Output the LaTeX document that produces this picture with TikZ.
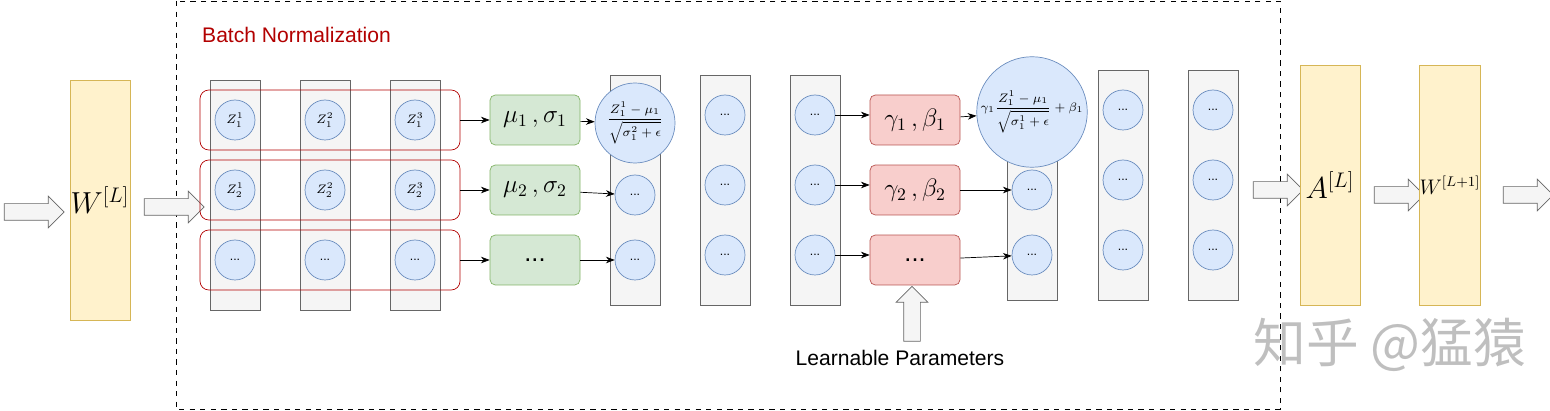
\documentclass[tikz,border=0pt]{standalone}
\usepackage{fontspec}
\usepackage{amsmath}
\setmainfont{Liberation Sans}
\newfontfamily\cjk{Noto Sans CJK SC}
\usetikzlibrary{shapes.arrows,arrows.meta}
\definecolor{colfill}{HTML}{F5F5F5}
\definecolor{colline}{HTML}{666666}
\definecolor{cfill}{HTML}{DAE8FC}
\definecolor{cline}{HTML}{6C8EBF}
\definecolor{gfill}{HTML}{D5E8D4}
\definecolor{gline}{HTML}{82B366}
\definecolor{pfill}{HTML}{F8CECC}
\definecolor{pline}{HTML}{B85450}
\definecolor{yfill}{HTML}{FFF2CC}
\definecolor{yline}{HTML}{D6B656}
\definecolor{bnred}{HTML}{B20000}
\begin{document}
\begin{tikzpicture}[x=0.02cm,y=-0.02cm,
  col/.style={draw=colline,fill=colfill,minimum width=1cm,inner sep=0},
  cir/.style={circle,draw=cline,fill=cfill,minimum size=0.8cm,inner sep=0,font=\scriptsize},
  grp/.style={draw=bnred,rounded corners=5pt,minimum width=5.2cm,minimum height=1.2cm},
  gbox/.style={draw=gline,fill=gfill,rounded corners=3pt,minimum width=1.8cm,minimum height=1cm},
  pbox/.style={draw=pline,fill=pfill,rounded corners=3pt,minimum width=1.8cm,minimum height=1cm},
  ybox/.style={draw=yline,fill=yfill,minimum width=1.2cm,minimum height=4.8cm,inner sep=0},
  barr/.style={single arrow,draw=colline,fill=colfill,inner xsep=0,inner ysep=0.16cm,single arrow head extend=0.15cm,single arrow tip angle=90},
  ar/.style={-{Stealth[length=5pt]},black}]
\useasboundingbox (0,0) rectangle (1550,411);
\draw[dashed] (176,1) rectangle (1280,409);
\node[anchor=west,text=bnred,font=\large] (bn) at (196,35) {Batch Normalization};
% W
\node[ybox] (W) at (100,200) {\LARGE $W^{[L]}$};
\node[barr,minimum height=1.2cm] (a0) at (30,212) {};
\node[barr,minimum height=1.2cm] (a1) at (170,207) {};
% columns
\foreach \n/\x/\t/\b in {c1/235/80/310,c2/325/80/310,c3/415/80/310,c4/635/75/305,c5/725/75/305,c6/815/75/305,c7/1032/70/300,c8/1123/70/300,c9/1213/70/300}
  \node[col,minimum height={(\b-\t)*0.02cm}] (\n) at (\x,{(\t+\b)/2}) {};
% groups
\foreach \r/\y in {1/120,2/190,3/260} \node[grp] (g\r) at (330,\y) {};
% circles
\node[cir] (z11) at (235,120) {$Z_1^1$};
\node[cir] (z12) at (325,120) {$Z_1^2$};
\node[cir] (z13) at (415,120) {$Z_1^3$};
\node[cir] (z21) at (235,190) {$Z_2^1$};
\node[cir] (z22) at (325,190) {$Z_2^2$};
\node[cir] (z23) at (415,190) {$Z_2^3$};
\node[cir] (z31) at (235,260) {...};
\node[cir] (z32) at (325,260) {...};
\node[cir] (z33) at (415,260) {...};
% green
\node[gbox] (m1) at (535,120) {\Large $\mu_1\,,\sigma_1$};
\node[gbox] (m2) at (535,190) {\Large $\mu_2\,,\sigma_2$};
\node[gbox] (m3) at (535,260) {\Large ...};
% col4
\node[cir,minimum size=1.6cm,font=\scriptsize] (n1) at (635,123) {$\dfrac{Z_1^1-\mu_1}{\sqrt{\sigma_1^2+\epsilon}}$};
\node[cir] (n2) at (635,195) {...};
\node[cir] (n3) at (635,260) {...};
\foreach \x/\p in {725/d,815/e} {
  \node[cir] (\p1) at (\x,115) {...};
  \node[cir] (\p2) at (\x,185) {...};
  \node[cir] (\p3) at (\x,255) {...};}
% pink
\node[pbox] (p1) at (915,120) {\Large $\gamma_1\,,\beta_1$};
\node[pbox] (p2) at (915,190) {\Large $\gamma_2\,,\beta_2$};
\node[pbox] (p3) at (915,260) {\Large ...};
% col7
\node[cir,minimum size=2.1cm,font=\scriptsize] (o1) at (1032,112) {$\gamma_1\dfrac{Z_1^1-\mu_1}{\sqrt{\sigma_1^1+\epsilon}}+\beta_1$};
\node[cir] (o2) at (1032,190) {...};
\node[cir] (o3) at (1032,255) {...};
\foreach \x/\p in {1123/f,1213/h} {
  \node[cir] (\p1) at (\x,110) {...};
  \node[cir] (\p2) at (\x,180) {...};
  \node[cir] (\p3) at (\x,250) {...};}
% connectors
\foreach \r in {1,2,3} {
  \draw[ar] (g\r) -- (m\r);
  \draw[ar] (e\r.east) -- (e\r.east -| p\r.west);}
\draw[ar] (m1) -- (n1);
\draw[ar] (m2) -- (n2);
\draw[ar] (m3) -- (n3);
\draw[ar] (p1) -- (o1);
\draw[ar] (p2) -- (o2);
\draw[ar] (p3) -- (o3);
% right part
\node[barr,minimum height=1cm] (a2) at (1274,190) {};
\node[ybox] (A) at (1330,185) {\LARGE $A^{[L]}$};
\node[barr,minimum height=1cm] (a3) at (1395,195) {};
\node[ybox] (W2) at (1450,185) {\large $W^{[L+1]}$};
\node[barr,minimum height=1cm] (a4) at (1524,195) {};
% learnable
\node[barr,minimum height=1.1cm,shape border rotate=90,inner xsep=0.16cm,inner ysep=0] (up) at (912,318) {};
\node[font=\large] (lp) at (900,358) {Learnable Parameters};
\node[text=black!25,font=\cjk\fontsize{30}{30}\selectfont] (wm) at (1390,345) {知乎 @猛猿};
\end{tikzpicture}
\end{document}
